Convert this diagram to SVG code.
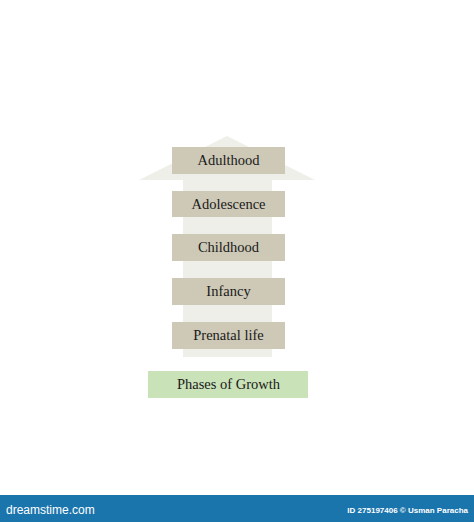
<svg xmlns="http://www.w3.org/2000/svg" width="474" height="522" viewBox="0 0 474 522">
<style>
.box{fill:#cdc9b6}
.lbl{font-family:"Liberation Serif",serif;font-size:14.5px;fill:#1a1a1a;text-anchor:middle}
.ft{font-family:"Liberation Sans",sans-serif;fill:#ffffff}
</style>
<rect width="474" height="522" fill="#ffffff"/>
<g id="arrow">
<polygon points="227,136 315,180 272,180 272,357 183,357 183,180 139,180" fill="#efefe9"/>
</g>
<g id="adulthood"><rect class="box" x="172" y="147" width="113" height="27"/><text class="lbl" x="228.5" y="164.5">Adulthood</text></g>
<g id="adolescence"><rect class="box" x="172" y="191" width="113" height="26"/><text class="lbl" x="228.5" y="208.5">Adolescence</text></g>
<g id="childhood"><rect class="box" x="172" y="234" width="113" height="27"/><text class="lbl" x="228.5" y="251.5">Childhood</text></g>
<g id="infancy"><rect class="box" x="172" y="278" width="113" height="27"/><text class="lbl" x="228.5" y="295.5">Infancy</text></g>
<g id="prenatal"><rect class="box" x="172" y="322" width="113" height="27"/><text class="lbl" x="228.5" y="339.5">Prenatal life</text></g>
<g id="phases"><rect x="148" y="371" width="160" height="27" fill="#c9e2b8"/><text class="lbl" x="228.5" y="388.5">Phases of Growth</text></g>
<g id="connectors"></g>
<g id="footer">
<rect x="0" y="495" width="474" height="27" fill="#1b75ad"/>
<text class="ft" x="6" y="514" font-size="12">dreamstime.com</text>
<text class="ft" x="468" y="513" font-size="8" font-weight="bold" text-anchor="end">ID 275197406 © Usman Paracha</text>
</g>
</svg>
